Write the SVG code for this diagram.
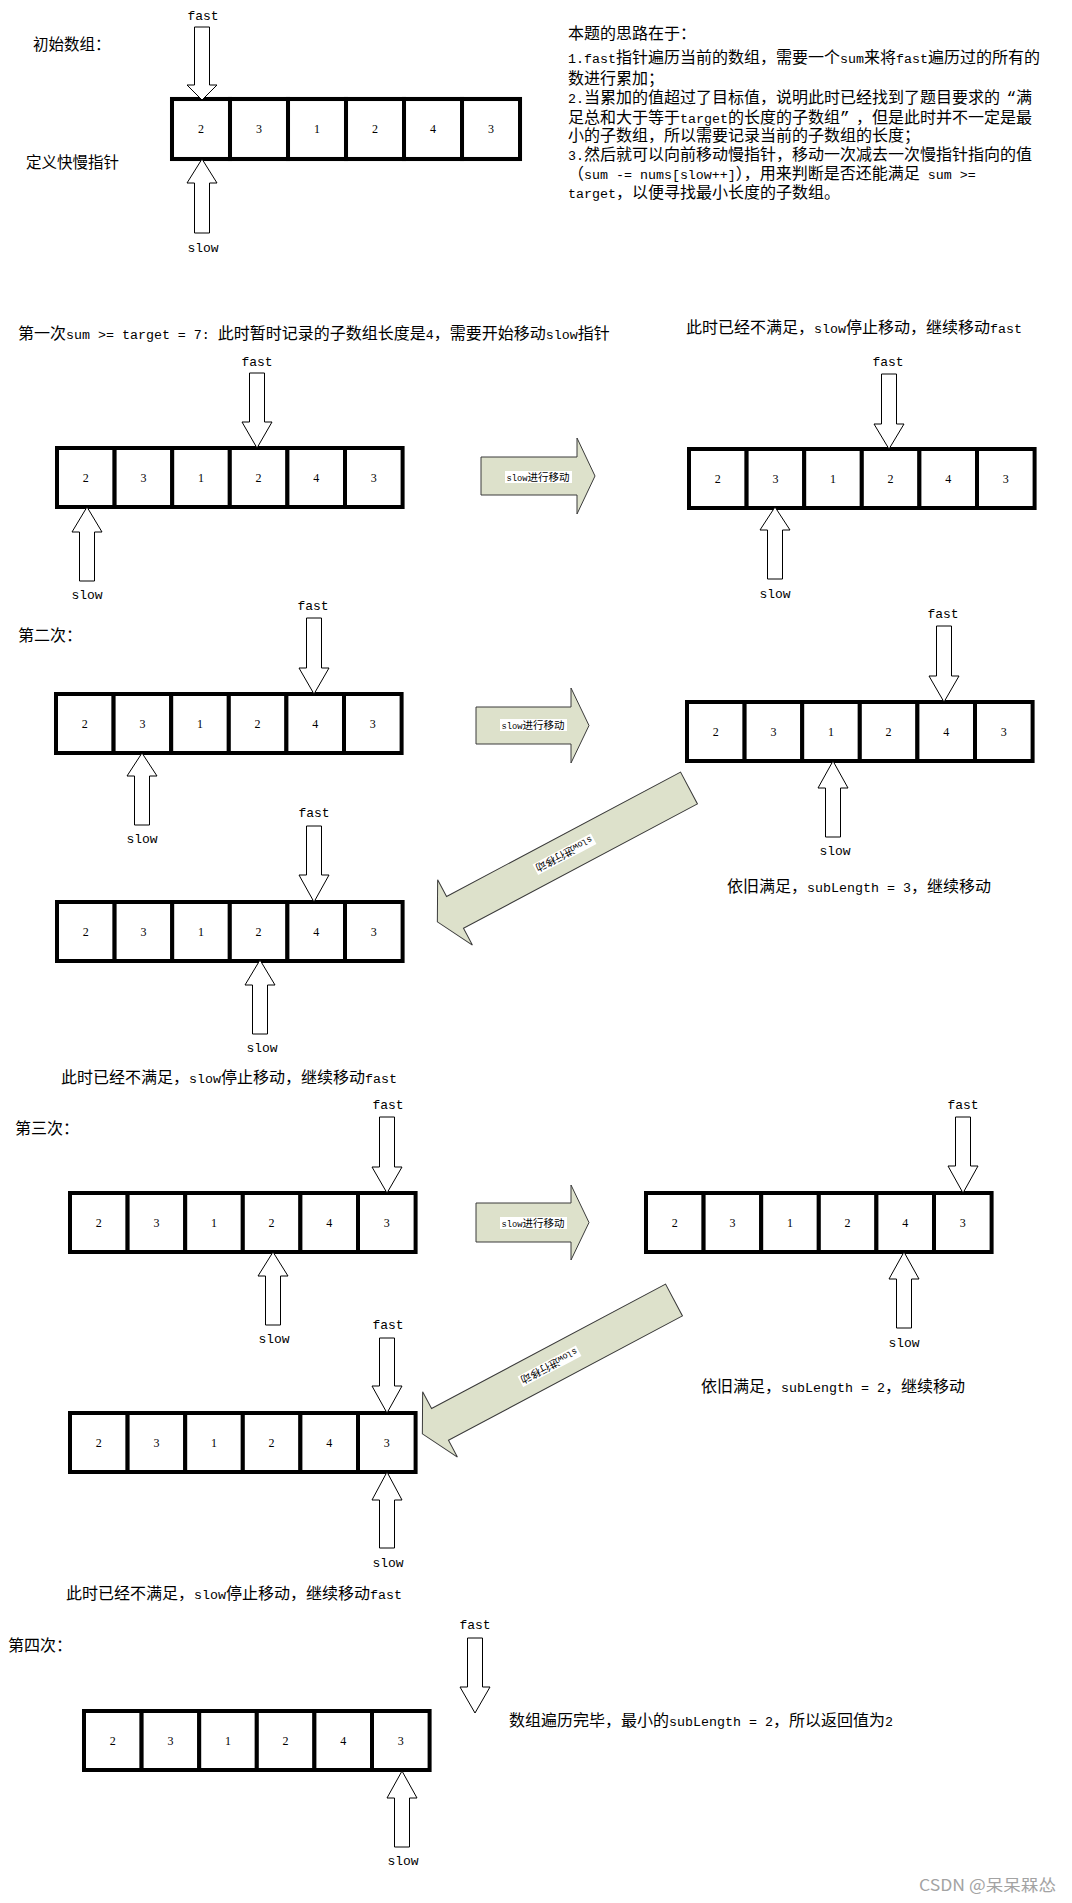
<svg xmlns="http://www.w3.org/2000/svg" width="1072" height="1903" viewBox="0 0 1072 1903">
<style>
.bg{fill:#ffffff}
.cell{fill:#ffffff;stroke:#000;stroke-width:4}
.num{font-family:'Liberation Serif',serif;font-size:12px;fill:#000;text-anchor:middle}
.ptr{fill:#ffffff;stroke:#000;stroke-width:1}
.pl{font-family:'Liberation Mono',monospace;font-size:13px;fill:#000;text-anchor:middle}
.t{font-family:'Noto Sans CJK SC',sans-serif;font-size:16px;fill:#000}
.ti{font-family:'Liberation Mono','Noto Sans CJK SC',monospace;font-size:16px;fill:#000}
.t15{font-family:'Noto Sans CJK SC',sans-serif;font-size:15.5px;fill:#000}
.m{font-family:'Liberation Mono',monospace;font-size:0.833em}
.blk{fill:#dde1cb;stroke:#3a3a3a;stroke-width:1}
.lb{fill:#ffffff}
.lt{font-family:'Noto Sans CJK SC',sans-serif;font-size:10.5px;fill:#000;text-anchor:middle}
.csdn{font-family:'Noto Sans CJK SC',sans-serif;font-size:16px;fill:#a3a3a3}
</style>
<defs>
<g id="cells">
<rect class="cell" x="0" y="0" width="57.6" height="59"/>
<rect class="cell" x="57.6" y="0" width="57.6" height="59"/>
<rect class="cell" x="115.2" y="0" width="57.6" height="59"/>
<rect class="cell" x="172.8" y="0" width="57.6" height="59"/>
<rect class="cell" x="230.4" y="0" width="57.6" height="59"/>
<rect class="cell" x="288" y="0" width="57.6" height="59"/>
</g>
</defs>
<rect class="bg" x="0" y="0" width="1072" height="1903"/>

<!-- Texts -->
<g id="texts">
<text class="t15" x="33" y="50">初始数组：</text>
<text class="t15" x="26" y="168">定义快慢指针</text>
<g id="intro">
<text class="ti" x="568" y="39">本题的思路在于：</text>
<text class="ti" x="568" y="63"><tspan class="m">1.fast</tspan>指针遍历当前的数组，需要一个<tspan class="m">sum</tspan>来将<tspan class="m">fast</tspan>遍历过的所有的</text>
<text class="ti" x="568" y="84">数进行累加；</text>
<text class="ti" x="568" y="103"><tspan class="m">2.</tspan>当累加的值超过了目标值，说明此时已经找到了题目要求的<tspan dx="6.4">“</tspan>满</text>
<text class="ti" x="568" y="123">足总和大于等于<tspan class="m">target</tspan>的长度的子数组”<tspan dx="6.4">，</tspan>但是此时并不一定是最</text>
<text class="ti" x="568" y="141">小的子数组，所以需要记录当前的子数组的长度；</text>
<text class="ti" x="568" y="160"><tspan class="m">3.</tspan>然后就可以向前移动慢指针，移动一次减去一次慢指针指向的值</text>
<text class="ti" x="568" y="179">（<tspan class="m">sum -= nums[slow++]</tspan>），用来判断是否还能满足<tspan class="m"> sum &gt;=</tspan></text>
<text class="ti" x="568" y="198"><tspan class="m">target</tspan>，以便寻找最小长度的子数组。</text>
</g>
<text class="t" x="18" y="339">第一次<tspan class="m">sum &gt;= target = 7: </tspan>此时暂时记录的子数组长度是<tspan class="m">4</tspan>，需要开始移动<tspan class="m">slow</tspan>指针</text>
<text class="t" x="686" y="333">此时已经不满足，<tspan class="m">slow</tspan>停止移动，继续移动<tspan class="m">fast</tspan></text>
<text class="t" x="18" y="641">第二次：</text>
<text class="t" x="727" y="892">依旧满足，<tspan class="m">subLength = 3</tspan>，继续移动</text>
<text class="t" x="61" y="1083">此时已经不满足，<tspan class="m">slow</tspan>停止移动，继续移动<tspan class="m">fast</tspan></text>
<text class="t" x="15" y="1134">第三次：</text>
<text class="t" x="701" y="1392">依旧满足，<tspan class="m">subLength = 2</tspan>，继续移动</text>
<text class="t" x="66" y="1599">此时已经不满足，<tspan class="m">slow</tspan>停止移动，继续移动<tspan class="m">fast</tspan></text>
<text class="t" x="8" y="1651">第四次：</text>
<text class="t" x="509" y="1726">数组遍历完毕，最小的<tspan class="m">subLength = 2</tspan>，所以返回值为<tspan class="m">2</tspan></text>
<text class="csdn" x="919" y="1891" textLength="137" lengthAdjust="spacingAndGlyphs">CSDN @呆呆槑怂</text>
</g>

<!-- Arrays -->
<g id="arr0" transform="translate(172,99)">
<use href="#cells" transform="scale(1.007,1.017)"/>
<text class="num" x="29" y="34">2</text><text class="num" x="87" y="34">3</text><text class="num" x="145" y="34">1</text><text class="num" x="203" y="34">2</text><text class="num" x="261" y="34">4</text><text class="num" x="319" y="34">3</text>
</g>
<g id="arr1a" transform="translate(57,448)">
<use href="#cells"/>
<text class="num" x="28.8" y="33.5">2</text><text class="num" x="86.4" y="33.5">3</text><text class="num" x="144" y="33.5">1</text><text class="num" x="201.6" y="33.5">2</text><text class="num" x="259.2" y="33.5">4</text><text class="num" x="316.8" y="33.5">3</text>
</g>
<g id="arr1b" transform="translate(689,449)">
<use href="#cells"/>
<text class="num" x="28.8" y="33.5">2</text><text class="num" x="86.4" y="33.5">3</text><text class="num" x="144" y="33.5">1</text><text class="num" x="201.6" y="33.5">2</text><text class="num" x="259.2" y="33.5">4</text><text class="num" x="316.8" y="33.5">3</text>
</g>
<g id="arr2a" transform="translate(56,694)">
<use href="#cells"/>
<text class="num" x="28.8" y="33.5">2</text><text class="num" x="86.4" y="33.5">3</text><text class="num" x="144" y="33.5">1</text><text class="num" x="201.6" y="33.5">2</text><text class="num" x="259.2" y="33.5">4</text><text class="num" x="316.8" y="33.5">3</text>
</g>
<g id="arr2b" transform="translate(687,702)">
<use href="#cells"/>
<text class="num" x="28.8" y="33.5">2</text><text class="num" x="86.4" y="33.5">3</text><text class="num" x="144" y="33.5">1</text><text class="num" x="201.6" y="33.5">2</text><text class="num" x="259.2" y="33.5">4</text><text class="num" x="316.8" y="33.5">3</text>
</g>
<g id="arr2c" transform="translate(57,902)">
<use href="#cells"/>
<text class="num" x="28.8" y="33.5">2</text><text class="num" x="86.4" y="33.5">3</text><text class="num" x="144" y="33.5">1</text><text class="num" x="201.6" y="33.5">2</text><text class="num" x="259.2" y="33.5">4</text><text class="num" x="316.8" y="33.5">3</text>
</g>
<g id="arr3a" transform="translate(70,1193)">
<use href="#cells"/>
<text class="num" x="28.8" y="33.5">2</text><text class="num" x="86.4" y="33.5">3</text><text class="num" x="144" y="33.5">1</text><text class="num" x="201.6" y="33.5">2</text><text class="num" x="259.2" y="33.5">4</text><text class="num" x="316.8" y="33.5">3</text>
</g>
<g id="arr3b" transform="translate(646,1193)">
<use href="#cells"/>
<text class="num" x="28.8" y="33.5">2</text><text class="num" x="86.4" y="33.5">3</text><text class="num" x="144" y="33.5">1</text><text class="num" x="201.6" y="33.5">2</text><text class="num" x="259.2" y="33.5">4</text><text class="num" x="316.8" y="33.5">3</text>
</g>
<g id="arr3c" transform="translate(70,1413)">
<use href="#cells"/>
<text class="num" x="28.8" y="33.5">2</text><text class="num" x="86.4" y="33.5">3</text><text class="num" x="144" y="33.5">1</text><text class="num" x="201.6" y="33.5">2</text><text class="num" x="259.2" y="33.5">4</text><text class="num" x="316.8" y="33.5">3</text>
</g>
<g id="arr4" transform="translate(84,1711)">
<use href="#cells"/>
<text class="num" x="28.8" y="33.5">2</text><text class="num" x="86.4" y="33.5">3</text><text class="num" x="144" y="33.5">1</text><text class="num" x="201.6" y="33.5">2</text><text class="num" x="259.2" y="33.5">4</text><text class="num" x="316.8" y="33.5">3</text>
</g>

<!-- Pointers -->
<g id="pointers">
<g id="p0f"><polygon class="ptr" points="194.5,27 209.5,27 209.5,85 217,85 202,100 187,85 194.5,85"/><text class="pl" x="203" y="20">fast</text></g>
<g id="p0s"><polygon class="ptr" points="202,159 217,183 209.5,183 209.5,233 194.5,233 194.5,183 187,183"/><text class="pl" x="203" y="252">slow</text></g>

<g id="p1af"><polygon class="ptr" points="249.5,373 264.5,373 264.5,422 272,422 257,448 242,422 249.5,422"/><text class="pl" x="257" y="366">fast</text></g>
<g id="p1as"><polygon class="ptr" points="87,507 102,532 94.5,532 94.5,581 79.5,581 79.5,532 72,532"/><text class="pl" x="87" y="599">slow</text></g>
<g id="p1bf"><polygon class="ptr" points="881.5,374 896.5,374 896.5,424 904,424 889,449 874,424 881.5,424"/><text class="pl" x="888" y="366">fast</text></g>
<g id="p1bs"><polygon class="ptr" points="775,507 790,530 782.5,530 782.5,579 767.5,579 767.5,530 760,530"/><text class="pl" x="775" y="598">slow</text></g>

<g id="p2af"><polygon class="ptr" points="306.5,618 321.5,618 321.5,668 329,668 314,694 299,668 306.5,668"/><text class="pl" x="313" y="610">fast</text></g>
<g id="p2as"><polygon class="ptr" points="142,753 157,776 149.5,776 149.5,825 134.5,825 134.5,776 127,776"/><text class="pl" x="142" y="843">slow</text></g>
<g id="p2bf"><polygon class="ptr" points="936.5,626 951.5,626 951.5,676 959,676 944,702 929,676 936.5,676"/><text class="pl" x="943" y="618">fast</text></g>
<g id="p2bs"><polygon class="ptr" points="833,761 848,788 840.5,788 840.5,837 825.5,837 825.5,788 818,788"/><text class="pl" x="835" y="855">slow</text></g>
<g id="p2cf"><polygon class="ptr" points="306.5,826 321.5,826 321.5,875 329,875 314,902 299,875 306.5,875"/><text class="pl" x="314" y="817">fast</text></g>
<g id="p2cs"><polygon class="ptr" points="260,960 275,985 267.5,985 267.5,1034 252.5,1034 252.5,985 245,985"/><text class="pl" x="262" y="1052">slow</text></g>

<g id="p3af"><polygon class="ptr" points="379.5,1117 394.5,1117 394.5,1167 402,1167 387,1193 372,1167 379.5,1167"/><text class="pl" x="388" y="1109">fast</text></g>
<g id="p3as"><polygon class="ptr" points="273,1252 288,1276 280.5,1276 280.5,1325 265.5,1325 265.5,1276 258,1276"/><text class="pl" x="274" y="1343">slow</text></g>
<g id="p3bf"><polygon class="ptr" points="955.5,1117 970.5,1117 970.5,1166 978,1166 963,1193 948,1166 955.5,1166"/><text class="pl" x="963" y="1109">fast</text></g>
<g id="p3bs"><polygon class="ptr" points="904,1252 919,1279 911.5,1279 911.5,1328 896.5,1328 896.5,1279 889,1279"/><text class="pl" x="904" y="1347">slow</text></g>
<g id="p3cf"><polygon class="ptr" points="379.5,1338 394.5,1338 394.5,1386 402,1386 387,1413 372,1386 379.5,1386"/><text class="pl" x="388" y="1329">fast</text></g>
<g id="p3cs"><polygon class="ptr" points="387,1472 402,1500 394.5,1500 394.5,1548 379.5,1548 379.5,1500 372,1500"/><text class="pl" x="388" y="1567">slow</text></g>

<g id="p4f"><polygon class="ptr" points="467.5,1638 482.5,1638 482.5,1687 490,1687 475,1713 460,1687 467.5,1687"/><text class="pl" x="475" y="1629">fast</text></g>
<g id="p4s"><polygon class="ptr" points="402,1771 417,1798 409.5,1798 409.5,1847 394.5,1847 394.5,1798 387,1798"/><text class="pl" x="403" y="1865">slow</text></g>
</g>

<!-- Connectors: block arrows -->
<g id="connectors">
<g id="move1">
<polygon class="blk" points="481,457 577,457 577,438 595,476 577,514 577,495 481,495"/>
<rect class="lb" x="505" y="471" width="67" height="12"/>
<text class="lt" x="538" y="481"><tspan class="m">slow</tspan>进行移动</text>
</g>
<g id="move2">
<polygon class="blk" points="476,707 571,707 571,688 589,725.5 571,763 571,744 476,744"/>
<rect class="lb" x="500" y="719" width="67" height="12"/>
<text class="lt" x="533" y="729"><tspan class="m">slow</tspan>进行移动</text>
</g>
<g id="move3">
<polygon class="blk" points="476,1203 571,1203 571,1185 589,1222.5 571,1260 571,1242 476,1242"/>
<rect class="lb" x="500" y="1217" width="67" height="12"/>
<text class="lt" x="533" y="1227"><tspan class="m">slow</tspan>进行移动</text>
</g>
<g id="back1" transform="translate(689,788) rotate(152)">
<polygon class="blk" points="0,-18 265,-18 265,-37 285,0 265,37 265,18 0,18"/>
<rect class="lb" x="108" y="-6" width="66" height="12"/>
<text class="lt" x="141" y="4"><tspan class="m">slow</tspan>进行移动</text>
</g>
<g id="back2" transform="translate(674,1300) rotate(152)">
<polygon class="blk" points="0,-18 265,-18 265,-37 285,0 265,37 265,18 0,18"/>
<rect class="lb" x="108" y="-6" width="66" height="12"/>
<text class="lt" x="141" y="4"><tspan class="m">slow</tspan>进行移动</text>
</g>
</g>
</svg>
